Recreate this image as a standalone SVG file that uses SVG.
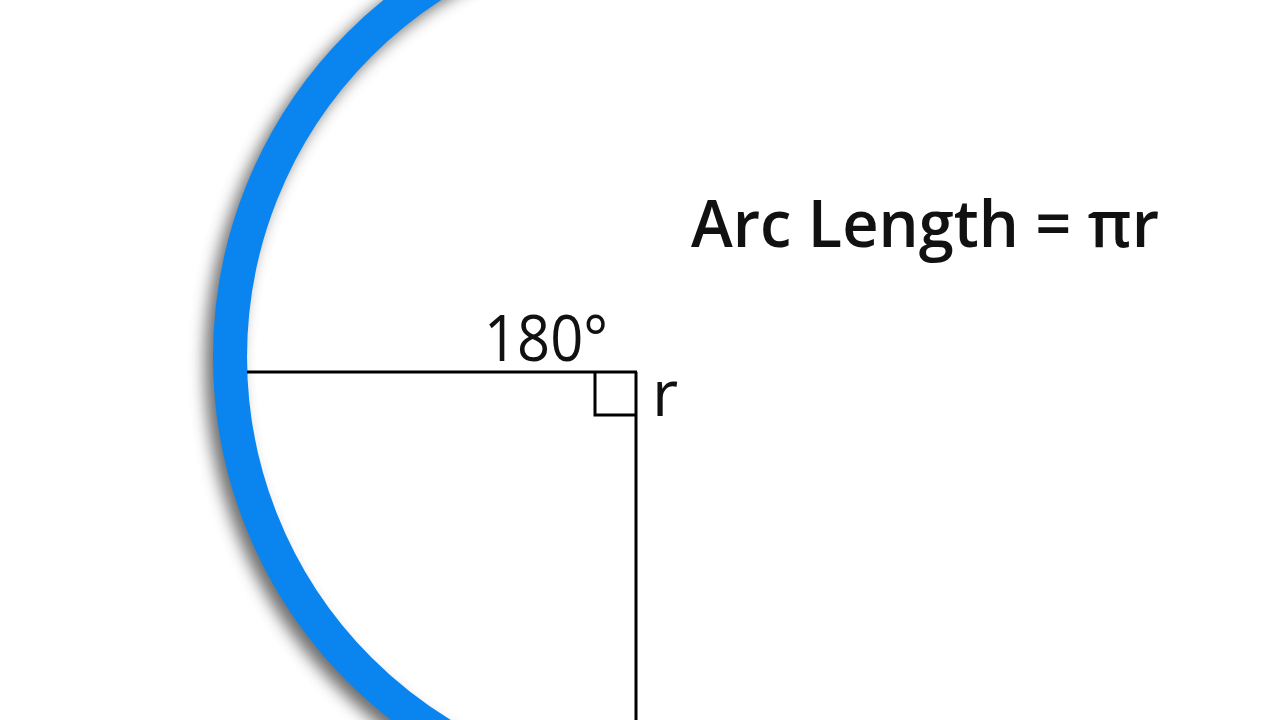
<svg xmlns="http://www.w3.org/2000/svg" width="1280" height="720" viewBox="0 0 1280 720">
  <defs>
    <filter id="shadow" x="-50%" y="-20%" width="200%" height="140%">
      <feGaussianBlur stdDeviation="8"/>
    </filter>
    <style>
      .ln { stroke: #000; stroke-width: 3; fill: none; }
      .lbl { font-family: "Open Sans", "Liberation Sans", sans-serif; fill: #111; }
    </style>
  </defs>
  <rect width="1280" height="720" fill="#fff"/>
  <g id="arc">
    <path d="M664,-77 A442,442 0 0 0 664,807" fill="none" stroke="#555" stroke-width="34" opacity="0.85" filter="url(#shadow)"/>
    <path d="M672,-85 A442,442 0 0 0 672,799" fill="none" stroke="#0A85F0" stroke-width="34"/>
  </g>
  <g id="connectors">
    <line class="ln" x1="247" y1="372" x2="637" y2="372"/>
    <line class="ln" x1="636" y1="372" x2="636" y2="720"/>
    <polyline class="ln" points="595,372 595,415 636,415"/>
  </g>
  <g id="label-180">
    <text class="lbl" x="484" y="361" font-size="64" textLength="124" lengthAdjust="spacingAndGlyphs">180°</text>
  </g>
  <g id="label-r">
    <text class="lbl" x="652" y="416" font-size="64">r</text>
  </g>
  <g id="formula">
    <text class="lbl" x="691" y="247" font-size="66" font-weight="600" textLength="468" lengthAdjust="spacingAndGlyphs">Arc Length = πr</text>
  </g>
</svg>
